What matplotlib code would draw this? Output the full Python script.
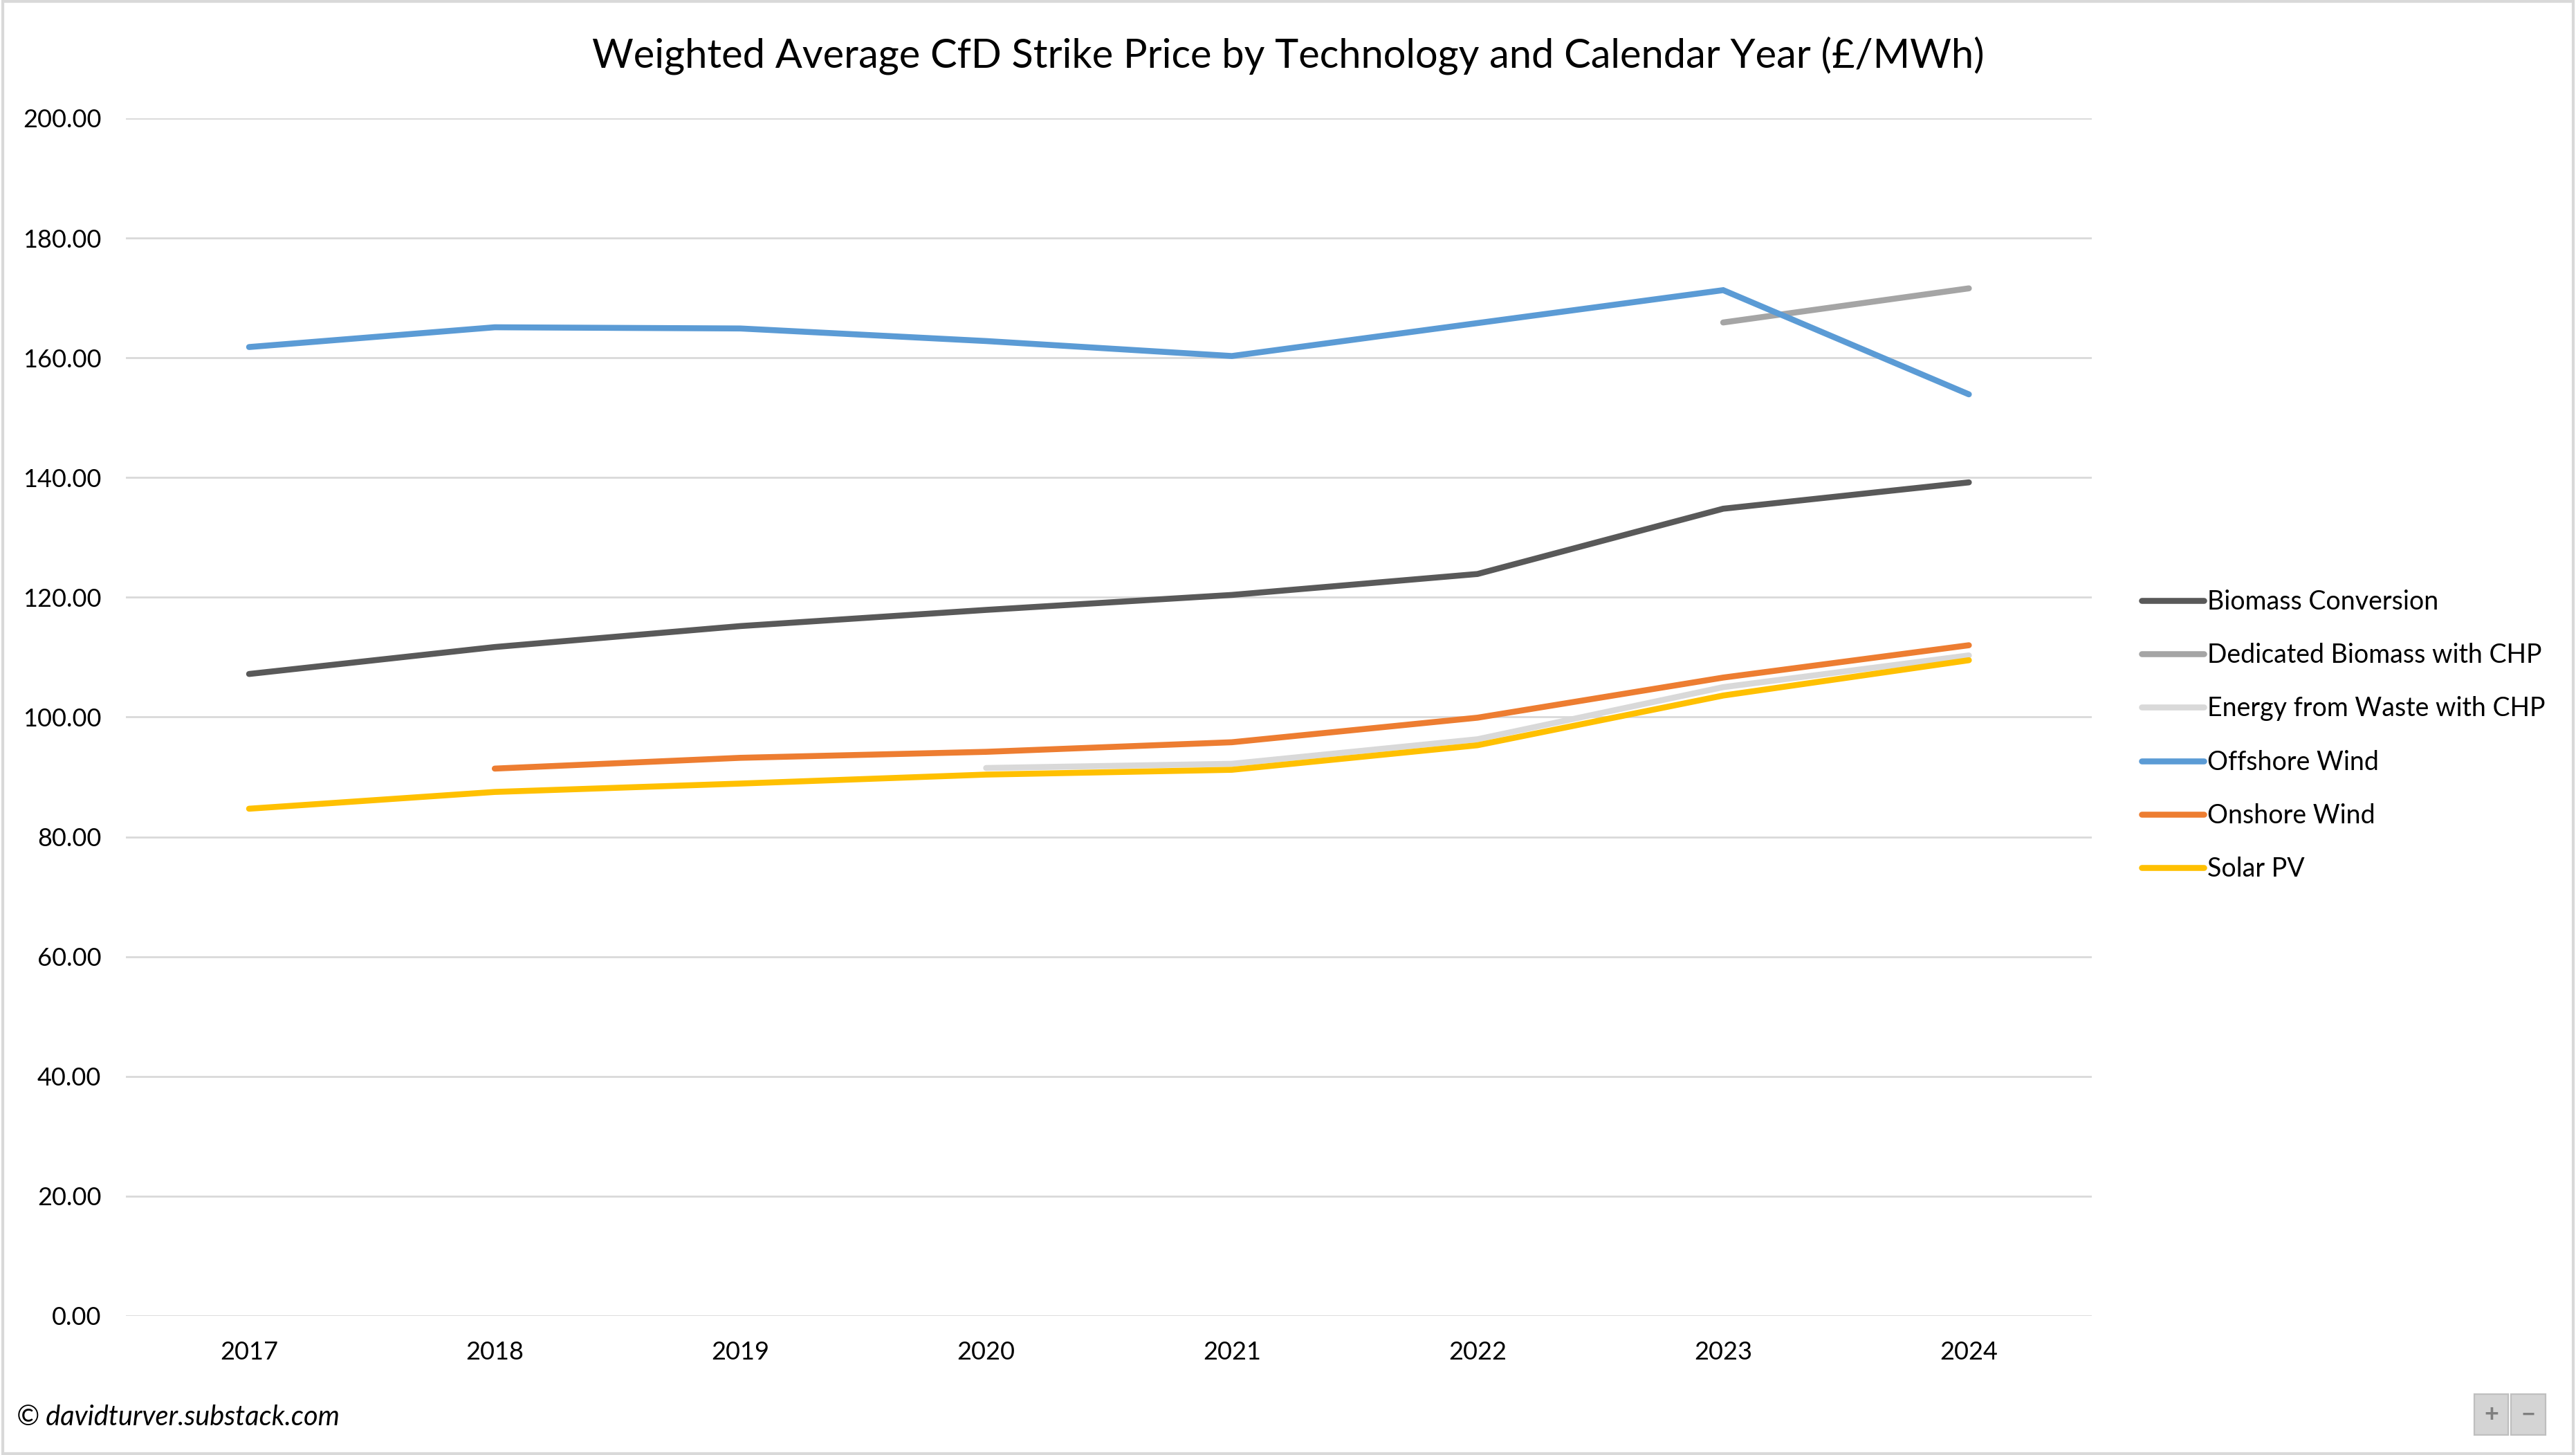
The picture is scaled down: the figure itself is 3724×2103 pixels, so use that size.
import numpy as np
import matplotlib.pyplot as plt
from matplotlib.patches import Rectangle

plt.rcParams['font.family'] = ['Lato', 'DejaVu Sans']

years = ["2017", "2018", "2019", "2020", "2021", "2022", "2023", "2024"]
nan = np.nan

biomass_conversion = [107.2, 111.7, 115.2, 117.9, 120.4, 123.9, 134.8, 139.2]
dedicated_biomass_chp = [nan, nan, nan, nan, nan, nan, 165.9, 171.6]
energy_from_waste_chp = [nan, nan, nan, 91.5, 92.2, 96.3, 105.0, 110.3]
offshore_wind = [161.8, 165.1, 164.9, 162.8, 160.3, 165.8, 171.3, 153.9]
onshore_wind = [nan, 91.4, 93.2, 94.2, 95.8, 99.9, 106.6, 112.0]
solar_pv = [84.7, 87.5, 88.9, 90.4, 91.2, 95.3, 103.6, 109.5]

series = [
    ("Biomass Conversion", biomass_conversion, "#595959"),
    ("Dedicated Biomass with CHP", dedicated_biomass_chp, "#A5A5A5"),
    ("Energy from Waste with CHP", energy_from_waste_chp, "#D9D9D9"),
    ("Offshore Wind", offshore_wind, "#5B9BD5"),
    ("Onshore Wind", onshore_wind, "#ED7D31"),
    ("Solar PV", solar_pv, "#FFC000"),
]

fig = plt.figure(figsize=(18.62, 10.515), dpi=200)
ax = fig.add_axes([0.049, 0.0956, 0.763, 0.8231])

x = np.arange(len(years))
for name, vals, col in series:
    ax.plot(x, vals, color=col, lw=3.1, label=name,
            solid_capstyle='round', solid_joinstyle='miter')

ax.set_xlim(-0.5, len(years) - 0.5)
ax.set_ylim(0, 200)
ax.set_yticks(np.arange(0, 201, 20))
ax.set_yticklabels([f"{v:.2f}" for v in np.arange(0, 201, 20)])
ax.set_xticks(x)
ax.set_xticklabels(years)
ax.tick_params(axis='both', length=0, labelsize=13, colors='black')
ax.tick_params(axis='y', pad=13)
ax.tick_params(axis='x', pad=13)
ax.grid(axis='y', color='#D9D9D9', lw=1.0)
ax.set_axisbelow(True)
for s in ax.spines.values():
    s.set_visible(False)

fig.text(0.5, 0.962, "Weighted Average CfD Strike Price by Technology and Calendar Year (£/MWh)",
         ha='center', va='center', fontsize=20.8)

fig.legend(loc='center left', bbox_to_anchor=(0.8222, 0.4945), frameon=False,
           fontsize=13.5, handlelength=2.4, handletextpad=0.15, labelspacing=1.1)

fig.text(0.0065, 0.026, "© davidturver.substack.com", style='italic',
         ha='left', va='center', fontsize=14.3)

# outer chart border
fig.patches.append(Rectangle((0.001, 0.001), 0.998, 0.998, transform=fig.transFigure,
                             fill=False, edgecolor='#D9D9D9', lw=1.5))

# zoom buttons bottom right
for i, sym in enumerate(["+", "−"]):
    x0 = 0.9605 + i * 0.0143
    fig.patches.append(Rectangle((x0, 0.0137), 0.0133, 0.028, transform=fig.transFigure,
                                 facecolor='#D4D4D4', edgecolor='#BFBFBF', lw=0.8))
    fig.text(x0 + 0.0066, 0.0277, sym, ha='center', va='center', fontsize=13,
             color='#7F7F7F', fontweight='bold')

fig.savefig("out.png", dpi=200)
